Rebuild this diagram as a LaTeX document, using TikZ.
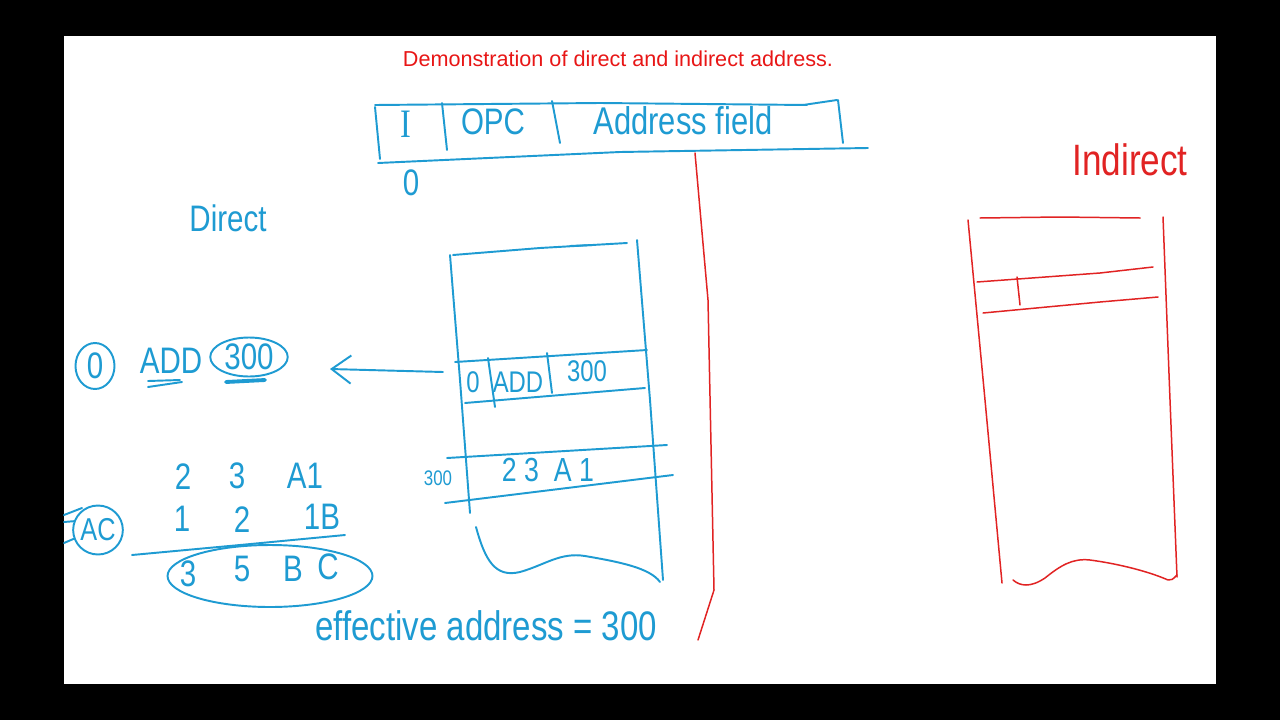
\documentclass[tikz,border=0pt]{standalone}
\usepackage{fontspec}
\setmainfont{Liberation Sans}
\newfontfamily\handfont[FakeStretch=0.8]{Liberation Sans}
\newfontfamily\handserif[FakeStretch=0.8]{Liberation Serif}
\usetikzlibrary{arrows.meta,shapes.geometric}
\definecolor{penblue}{RGB}{30,155,210}
\definecolor{penred}{RGB}{225,35,35}
\definecolor{titlered}{RGB}{232,22,22}
\tikzset{
  blueline/.style={penblue, line width=1.1pt, line cap=round, line join=round},
  redline/.style={penred, line width=0.85pt, line cap=round, line join=round},
  hand/.style={penblue, inner sep=0pt, font=\handfont\fontsize{21}{21}\selectfont},
  smallhand/.style={hand, font=\handfont\fontsize{17}{17}\selectfont},
  redhand/.style={hand, penred},
  ring/.style={draw=penblue, line width=1.1pt, ellipse, inner sep=0pt},
}

\begin{document}
\begin{tikzpicture}[x=0.02cm, y=-0.02cm]

    \fill[black] (0,0) rectangle (1280,720);
    \fill[white] (64,36) rectangle (1216,684);

    \node [titlered, font=\fontsize{12.3}{14}\selectfont] (title) at (618,59) {Demonstration of direct and indirect address.};

    %instruction format
    \draw[blueline] (375,105) -- (600,103) -- (807,105);
    \draw[blueline] (803,105) -- (837,100);
    \draw[blueline] (378,163) -- (620,152) -- (868,148);
    \draw[blueline] (375,107) -- (380,159);
    \draw[blueline] (442,103) -- (447,150);
    \draw[blueline] (552,101) -- (560,143);
    \draw[blueline] (838,100) -- (843,143);
    \node [hand, font=\handserif\fontsize{23}{23}\selectfont] (fmtI) at (406,124) {I};
    \node [hand] (fmtOPC) at (493,122) {OPC};
    \node [hand, font=\handfont\fontsize{22}{22}\selectfont] (fmtAddr) at (683,121) {Address field};
    \node [hand] (fmtZero) at (411,183) {0};

    %direct
    \node [hand] (direct) at (228,218) {Direct};
    \node [hand, ring, minimum width=0.78cm, minimum height=0.92cm] (dirZero) at (95,366) {0};
    \node [hand] (dirADD) at (171,361) {ADD};
    \node [hand, ring, minimum width=1.55cm, minimum height=0.78cm] (dirAddr) at (249,357) {300};
    \draw[blueline] (148,381) -- (180,380);
    \draw[blueline] (148,387) -- (182,382);
    \draw[blueline, line width=2.2pt] (226,382) -- (265,380);

    %memory
    \draw[blueline] (453,255) -- (540,248) -- (627,243);
    \draw[blueline] (570,246) -- (593,245);
    \draw[blueline] (450,255) -- (460,380) -- (470,513);
    \draw[blueline] (637,240) -- (650,400) -- (663,580);
    \draw[blueline] (455,362) -- (647,350);
    \draw[blueline] (465,403) -- (645,388);
    \draw[blueline] (488,358) -- (495,407);
    \draw[blueline] (547,353) -- (552,393);
    \draw[blueline] (447,458) -- (667,445);
    \draw[blueline] (445,503) -- (673,475);
    \draw[blueline] (476,527) .. controls (485,560) and (495,578) .. (520,572)
                    .. controls (545,565) and (560,552) .. (585,556)
                    .. controls (620,562) and (650,568) .. (660,582);
    \node [smallhand] (memZero) at (473,382) {0};
    \node [smallhand] (memADD) at (518,382) {ADD};
    \node [smallhand] (memAddr) at (587,371) {300};
    \node [smallhand, font=\handfont\fontsize{12}{12}\selectfont] (memLoc) at (438,478) {300};
    \node [hand, font=\handfont\fontsize{19}{19}\selectfont] (memData) at (548,470) {2 3 \ A 1};

    %fetch arrow
    \coordinate (fetchStart) at (443,372);
    \coordinate (fetchEnd) at (330,369);
    \draw[blueline, -{Straight Barb[length=11pt, width=16pt]}] (fetchStart) -- (fetchEnd);

    %addition
    \node [hand, ring, font=\handfont\fontsize{18}{18}\selectfont, minimum width=0.74cm, minimum height=0.98cm] (acc) at (98,530) {AC};
    \coordinate (accA) at (64,515);
    \coordinate (accB) at (64,522);
    \coordinate (accC) at (64,543);
    \draw[blueline] (accA) -- (82,508);
    \draw[blueline] (accB) -- (acc.160);
    \draw[blueline] (accC) -- (acc.200);
    \node [hand] (opA1) at (183,477) {2};
    \node [hand] (opA2) at (237,476) {3};
    \node [hand] (opA3) at (305,476) {A1};
    \node [hand] (opB1) at (182,519) {1};
    \node [hand] (opB2) at (242,520) {2};
    \node [hand] (opB3) at (322,517) {1B};
    \draw[blueline] (132,555) -- (240,545) -- (345,535);
    \node [ring, minimum width=4.1cm, minimum height=1.24cm] (sum) at (270,576) {};
    \node [hand] (sum1) at (188,574) {3};
    \node [hand] (sum2) at (242,569) {5};
    \node [hand] (sum3) at (293,569) {B};
    \node [hand] (sum4) at (328,567) {C};

    \node [hand, font=\handfont\fontsize{23.5}{23.5}\selectfont] (effAddr) at (486,626) {effective address = 300};

    %divider
    \draw[redline] (695,153) -- (708,300) -- (714,590) -- (698,640);

    %indirect
    \node [redhand, font=\handfont\fontsize{25}{25}\selectfont] (indirect) at (1130,160) {Indirect};
    \draw[redline] (980,218) -- (1060,217) -- (1140,218);
    \draw[redline] (968,220) -- (985,400) -- (1002,583);
    \draw[redline] (1163,217) -- (1170,400) -- (1177,577);
    \draw[redline] (977,282) -- (1100,273) -- (1153,267);
    \draw[redline] (983,313) -- (1100,302) -- (1158,297);
    \draw[redline] (1017,277) -- (1020,305);
    \draw[redline] (1013,580) .. controls (1020,586) and (1030,588) .. (1045,578)
                   .. controls (1060,566) and (1072,558) .. (1090,560)
                   .. controls (1120,564) and (1150,572) .. (1168,580)
                   .. controls (1172,580) .. (1177,575);

\end{tikzpicture}
\end{document}
